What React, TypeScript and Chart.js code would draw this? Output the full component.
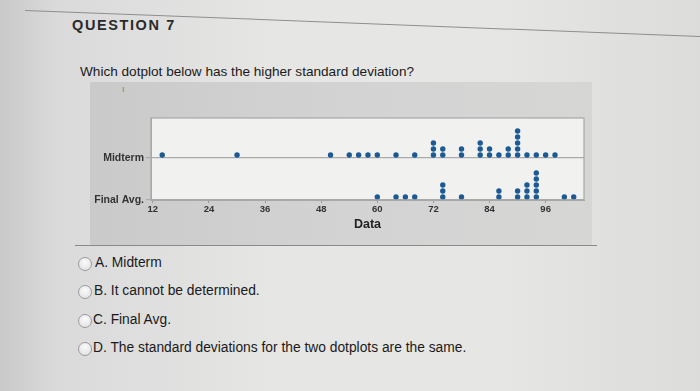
import React, { useEffect, useRef } from 'react';
import { Chart, registerables } from 'chart.js';

Chart.register(...registerables);

const categories = ['Final Avg.', 'Midterm'];
const midtermValues = [14, 30, 50, 54, 56, 58, 60, 64, 68, 72, 72, 72, 74, 74, 78, 78, 82, 82, 82, 84, 84, 86, 88, 88, 90, 90, 90, 90, 90, 92, 94, 96, 98];
const finalValues = [60, 64, 66, 68, 74, 74, 74, 78, 86, 86, 90, 90, 92, 92, 92, 94, 94, 94, 94, 94, 100, 102];
const xTicks = [12, 24, 36, 48, 60, 72, 84, 96];
const axisTitle = 'Data';
const questionTitle = 'QUESTION 7';
const questionText = 'Which dotplot below has the higher standard deviation?';
const answers = [
  'A. Midterm',
  'B. It cannot be determined.',
  'C. Final Avg.',
  'D. The standard deviations for the two dotplots are the same.',
];

const FONT = '"Liberation Sans", Arial, Helvetica, sans-serif';
const DOT = '#1b5a93';

function stack(values: number[], row: number) {
  const counts: Record<number, number> = {};
  return values.map((v) => {
    const k = counts[v] || 0;
    counts[v] = k + 1;
    return { x: v, y: row + 0.07 + k * 0.143 };
  });
}

const boxPlugin = {
  id: 'boxPlugin',
  beforeDraw(chart: any) {
    const { ctx, chartArea: a } = chart;
    ctx.save();
    ctx.fillStyle = '#f1f1f0';
    ctx.fillRect(a.left, a.top, a.right - a.left, a.bottom - a.top);
    ctx.restore();
  },
  afterDraw(chart: any) {
    const { ctx, chartArea: a } = chart;
    ctx.save();
    ctx.strokeStyle = '#a8a8a8';
    ctx.lineWidth = 1.2;
    ctx.strokeRect(a.left, a.top, a.right - a.left, a.bottom - a.top);
    ctx.restore();
  },
};

function DotPlot() {
  const ref = useRef<HTMLCanvasElement | null>(null);
  useEffect(() => {
    if (!ref.current) return;
    const chart = new Chart(ref.current, {
      type: 'scatter',
      data: {
        datasets: [
          {
            label: categories[1],
            data: stack(midtermValues, 1),
            backgroundColor: DOT,
            borderColor: DOT,
            pointRadius: 2.7,
            borderWidth: 0,
          },
          {
            label: categories[0],
            data: stack(finalValues, 0),
            backgroundColor: DOT,
            borderColor: DOT,
            pointRadius: 2.7,
            borderWidth: 0,
          },
        ],
      },
      options: {
        animation: false,
        responsive: false,
        maintainAspectRatio: false,
        layout: { padding: { top: 36, right: 8, left: 0, bottom: 13 } },
        plugins: { legend: { display: false }, tooltip: { enabled: false } },
        scales: {
          x: {
            type: 'linear',
            min: 11.6,
            max: 104.2,
            afterBuildTicks: (s: any) => {
              s.ticks = xTicks.map((v) => ({ value: v }));
            },
            afterFit: (s: any) => {
              s.height = 32;
            },
            ticks: {
              autoSkip: false,
              maxRotation: 0,
              padding: 1,
              color: '#333',
              font: { family: FONT, size: 9.5, weight: 'bold' },
            },
            grid: { drawOnChartArea: false, drawTicks: true, tickLength: 3, color: '#999' },
            border: { display: true, color: '#a8a8a8' },
            title: {
              display: true,
              text: axisTitle,
              color: '#222',
              padding: { top: 2, bottom: 0 },
              font: { family: FONT, size: 12.5, weight: 'bold' },
            },
          },
          y: {
            type: 'linear',
            min: 0,
            max: 1.95,
            afterBuildTicks: (s: any) => {
              s.ticks = categories.map((_, i) => ({ value: i }));
            },
            afterFit: (s: any) => {
              s.width = 61;
            },
            ticks: {
              callback: (v: any) => categories[v as number],
              padding: 2,
              color: '#333',
              font: { family: FONT, size: 10.5, weight: 'bold' },
            },
            grid: { color: '#aaa', drawTicks: true, tickLength: 5, lineWidth: 1.2 },
            border: { display: true, color: '#a8a8a8' },
          },
        },
      } as any,
      plugins: [boxPlugin],
    });
    return () => chart.destroy();
  }, []);
  return (
    <canvas
      ref={ref}
      width={502}
      height={163}
      style={{ position: 'absolute', left: 90, top: 82, width: 502, height: 163 }}
    />
  );
}

export default function App() {
  const rowY = [264, 292, 321, 349];
  const rowX = [95, 94, 93, 93];
  return (
    <div
      style={{
        position: 'fixed',
        left: 0,
        top: 0,
        width: 700,
        height: 391,
        overflow: 'hidden',
        fontFamily: FONT,
        color: '#1e1e1e',
        background:
          'linear-gradient(90deg, #c9c9c9 0%, #dadada 8%, #e6e6e5 40%, #e6e6e4 70%, #dcdcda 100%)',
      }}
    >
      <div
        style={{
          position: 'absolute',
          left: 25,
          top: 10,
          width: 680,
          height: 0,
          borderTop: '1.5px solid #8e8e8e',
          transformOrigin: '0 0',
          transform: 'rotate(2.2deg)',
        }}
      />
      <div
        style={{
          position: 'absolute',
          left: 72,
          top: 17,
          fontSize: 14.5,
          fontWeight: 'bold',
          letterSpacing: 1.6,
          color: '#2a2a2a',
        }}
      >
        {questionTitle}
      </div>
      <div style={{ position: 'absolute', left: 80, top: 64, fontSize: 13.6, color: '#1a1a1a' }}>
        {questionText}
      </div>
      <div
        style={{
          position: 'absolute',
          left: 90,
          top: 82,
          width: 502,
          height: 163,
          background: 'linear-gradient(90deg, #cacaca 0%, #d3d3d3 50%, #d6d6d5 100%)',
        }}
      />
      <div style={{ position: 'absolute', left: 122, top: 84, fontSize: 9, color: '#777' }}>ı</div>
      <DotPlot />
      <div
        style={{
          position: 'absolute',
          left: 75,
          top: 245,
          width: 522,
          height: 0,
          borderTop: '1.5px solid #8a8a8a',
        }}
      />
      {answers.map((a, i) => (
        <React.Fragment key={a}>
          <div
            style={{
              position: 'absolute',
              left: 78,
              top: rowY[i] - 7,
              width: 12,
              height: 12,
              borderRadius: '50%',
              border: '1px solid #9a9a9a',
              background: 'radial-gradient(circle at 50% 35%, #fafafa, #dedede)',
            }}
          />
          <div
            style={{
              position: 'absolute',
              left: rowX[i],
              top: rowY[i] - 9,
              fontSize: 13.8,
              color: '#1a1a1a',
              whiteSpace: 'nowrap',
            }}
          >
            {a}
          </div>
        </React.Fragment>
      ))}
    </div>
  );
}
